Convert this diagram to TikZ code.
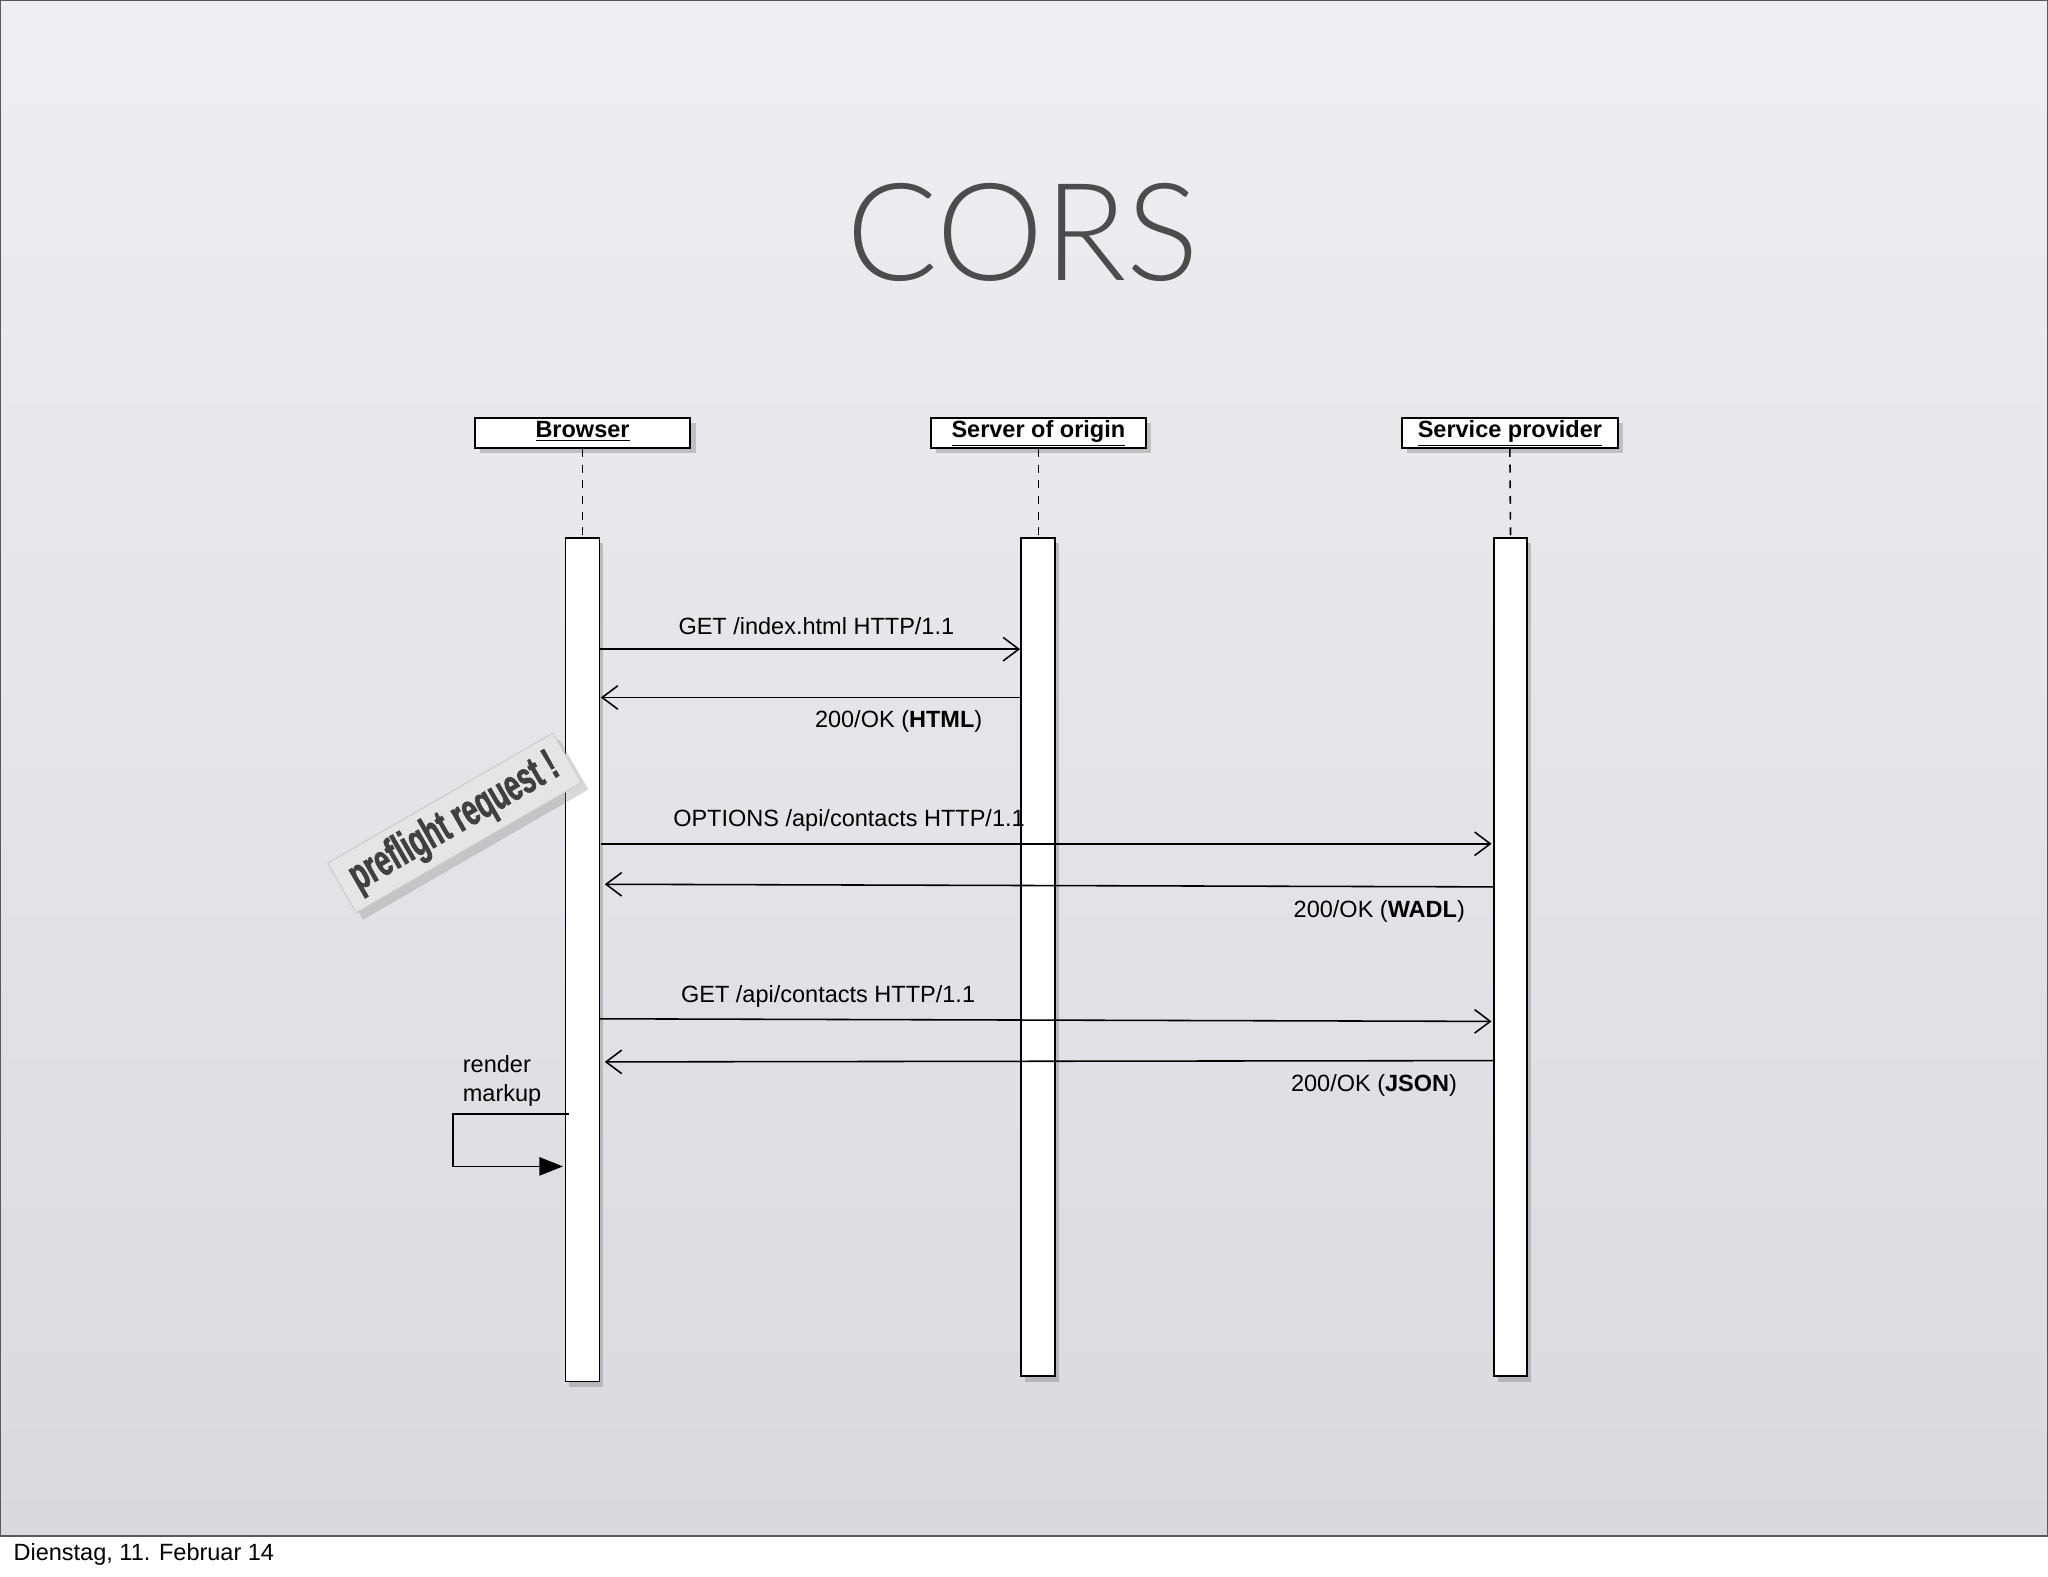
\documentclass[tikz,border=0pt]{standalone}
\usepackage{fontspec}
\setmainfont{Liberation Sans}
\newfontfamily\titlefont{Lato Light}
\newfontfamily\stampfont[FakeStretch=0.62,FakeBold=1.5]{Liberation Sans Bold}
\usetikzlibrary{arrows.meta,shadows}
\definecolor{bgA}{HTML}{EEEFF2}
\definecolor{bgB}{HTML}{D9DADF}
\tikzset{
 head/.style={draw,fill=white,line width=0.8pt,minimum width=82.5pt,minimum height=11pt,inner sep=0pt,text height=7.3pt,text depth=4.2pt,font=\fontsize{9}{10}\selectfont\bfseries,drop shadow={shadow xshift=2pt,shadow yshift=-2pt,opacity=0.4}},
 bar/.style={draw,fill=white,line width=0.7pt,drop shadow={shadow xshift=1.5pt,shadow yshift=-2pt,opacity=0.4}},
 life/.style={dashed,line width=0.6pt},
 msg/.style={line width=0.6pt,-{Straight Barb[length=6pt,width=9pt]}},
 lbl/.style={font=\fontsize{9}{11}\selectfont,inner sep=0pt}
}
\begin{document}
\begin{tikzpicture}[x=0.5pt,y=-0.5pt]
\useasboundingbox (0,0) rectangle (1568,1207);
\fill[white] (0,0) rectangle (1568,1207);
\shade[top color=bgA,bottom color=bgB] (0,0) rectangle (1568,1176);
\draw[gray!70!black,line width=0.5pt] (0.5,0.5) rectangle (1567.5,1176);
\node[font=\titlefont\fontsize{52}{60}\selectfont,text=black!70] (title) at (783,178) {CORS};
\node[lbl,anchor=west] (foot) at (10,1190) {Dienstag, 11. Februar 14};
% heads
\node[head] (hb) at (446,331.5) {\underline{Browser}};
\node[head] (hs) at (795,331.5) {\underline{Server of origin}};
\node[head] (hp) at (1156,331.5) {\underline{Service provider}};
% bars
\node[bar,minimum width=13pt,minimum height=323pt,inner sep=0pt,anchor=north] (bb) at (446,411) {};
\node[bar,minimum width=13pt,minimum height=321pt,inner sep=0pt,anchor=north] (bs) at (795,411) {};
\node[bar,minimum width=12.5pt,minimum height=321pt,inner sep=0pt,anchor=north] (bp) at (1156.5,411) {};
\draw[life] (hb.south) -- (bb.north);
\draw[life] (hs.south) -- (bs.north);
\draw[life] (hp.south) -- (bp.north);
% messages
\coordinate (a1) at (459,497); \coordinate (a2) at (781,497);
\draw[msg] (a1) -- (a2);
\node[lbl] (l1) at (625,479) {GET /index.html HTTP/1.1};
\coordinate (b1) at (781,534); \coordinate (b2) at (460,534);
\draw[msg] (b1) -- (b2);
\node[lbl] (l2) at (688,552) {200/OK (\textbf{HTML})};
\coordinate (c1) at (460,646); \coordinate (c2) at (1142,646);
\draw[msg] (c1) -- (c2);
\node[lbl] (l3) at (650,628) {OPTIONS /api/contacts HTTP/1.1};
\coordinate (d1) at (1143,679); \coordinate (d2) at (463,677);
\draw[msg] (d1) -- (d2);
\node[lbl] (l4) at (1056,698) {200/OK (\textbf{WADL})};
\coordinate (e1) at (459,780); \coordinate (e2) at (1142,782);
\draw[msg] (e1) -- (e2);
\node[lbl] (l5) at (634,763) {GET /api/contacts HTTP/1.1};
\coordinate (f1) at (1143,812); \coordinate (f2) at (463,813);
\draw[msg] (f1) -- (f2);
\node[lbl] (l6) at (1052,831) {200/OK (\textbf{JSON})};
% self call
\coordinate (s1) at (436,853); \coordinate (s2) at (431,893);
\draw[line width=0.6pt,-{Triangle[length=9pt,width=7pt]}] (s1) -- (347,853) -- (347,893) -- (s2);
\node[lbl,anchor=north west,align=left] (l7) at (354,808) {render\\markup};
% stamp
\node[rotate=30,fill=black!10,draw=black!20,drop shadow={opacity=0.3},inner xsep=5pt,inner ysep=3pt,
 font=\stampfont\fontsize{17}{17}\selectfont,text=black!75] (stamp) at (348,630) {preflight request !};
\end{tikzpicture}
\end{document}
